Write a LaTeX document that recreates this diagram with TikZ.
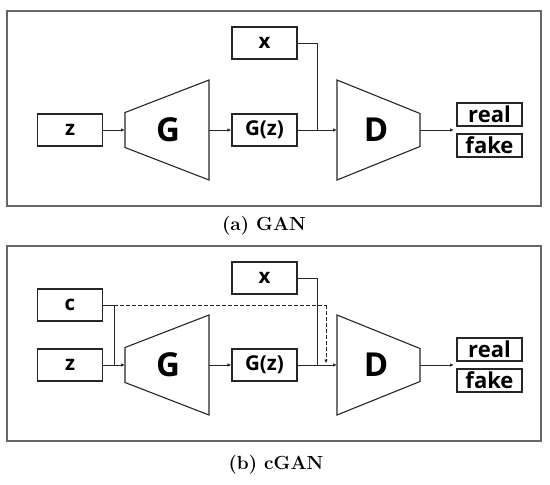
\documentclass[tikz,border=0pt]{standalone}
\usepackage{fontspec}
\newfontfamily\boxfont{Open Sans}[BoldFont={* Bold}]
\usetikzlibrary{arrows.meta}
\begin{document}
\begin{tikzpicture}[x=1pt,y=-1pt,
  frame/.style={draw=black!60, line width=1.5pt, inner sep=0pt, minimum width=534pt, minimum height=195pt},
  blk/.style={draw=black!85, line width=1.1pt, minimum width=65pt, minimum height=32pt, inner sep=0pt, font=\boxfont\bfseries\fontsize{20.5}{20.5}\selectfont},
  outbox/.style={draw=black!85, line width=1.1pt, minimum width=65pt, minimum height=23pt, inner sep=0pt, font=\boxfont\bfseries\fontsize{22}{22}\selectfont},
  trap/.style={draw=black!85, line width=1.1pt},
  big/.style={inner sep=0pt, font=\boxfont\bfseries\fontsize{33}{33}\selectfont},
  wire/.style={draw=black!85, line width=0.9pt},
  arr/.style={wire, -{Latex[length=4pt,width=3.5pt]}},
  dwire/.style={wire, dash pattern=on 3.5pt off 2.5pt},
  captxt/.style={inner sep=0pt, font=\bfseries\fontsize{19}{19}\selectfont}
]
\useasboundingbox (0,0) rectangle (550,485);

% ---------- (a) GAN ----------
\node[frame] (fa) at (274,108.5) {};
\node[blk] (za) at (70,130) {z};
\node[blk] (gza) at (264.5,130) {G(z)};
\node[blk] (xa) at (264.5,43) {x};
\node[outbox] (reala) at (489.5,114.5) {real};
\node[outbox] (fakea) at (489.5,145.5) {fake};
\draw[trap] (125,112.5) -- (209,80) -- (209,180) -- (125,147.5) -- cycle;
\draw[trap] (337,80) -- (420,113.5) -- (420,146.5) -- (337,180) -- cycle;
\node[big] (Ga) at (168,130) {G};
\node[big] (Da) at (376,130) {D};
\coordinate (Gina) at (125,130);
\coordinate (Gouta) at (209,130);
\coordinate (Dina) at (337,130);
\coordinate (Douta) at (420,130);
\coordinate (xja) at (317,130);
\coordinate (resa) at (454,130);
\draw[arr] (za.east) -- (Gina);
\draw[arr] (Gouta) -- (gza.west);
\draw[arr] (gza.east) -- (Dina);
\draw[wire] (xa.east) -| (xja);
\draw[arr] (Douta) -- (resa);
\node[captxt] (capa) at (264,226) {(a) GAN};

% ---------- (b) cGAN ----------
\node[frame] (fb) at (274,343.5) {};
\node[blk] (cb) at (70,305) {c};
\node[blk] (zb) at (70,365) {z};
\node[blk] (gzb) at (264.5,365) {G(z)};
\node[blk] (xb) at (264.5,278) {x};
\node[outbox] (realb) at (489.5,349.5) {real};
\node[outbox] (fakeb) at (489.5,380.5) {fake};
\draw[trap] (125,347.5) -- (209,315) -- (209,415) -- (125,382.5) -- cycle;
\draw[trap] (337,315) -- (420,348.5) -- (420,381.5) -- (337,415) -- cycle;
\node[big] (Gb) at (168,365) {G};
\node[big] (Db) at (376,365) {D};
\coordinate (Ginb) at (125,365);
\coordinate (Goutb) at (209,365);
\coordinate (Dinb) at (337,365);
\coordinate (Doutb) at (420,365);
\coordinate (xjb) at (317,365);
\coordinate (cj) at (114,305);
\coordinate (czj) at (114,365);
\coordinate (dtop) at (326,305);
\coordinate (dend) at (326,363.5);
\coordinate (resb) at (454,365);
\draw[arr] (zb.east) -- (Ginb);
\draw[wire] (cb.east) -- (cj) -- (czj);
\draw[dwire] (cj) -- (dtop);
\draw[dwire, -{Latex[length=4pt,width=3.5pt]}] (dtop) -- (dend);
\draw[arr] (Goutb) -- (gzb.west);
\draw[arr] (gzb.east) -- (Dinb);
\draw[wire] (xb.east) -| (xjb);
\draw[arr] (Doutb) -- (resb);
\node[captxt] (capb) at (276,465) {(b) cGAN};
\end{tikzpicture}
\end{document}
